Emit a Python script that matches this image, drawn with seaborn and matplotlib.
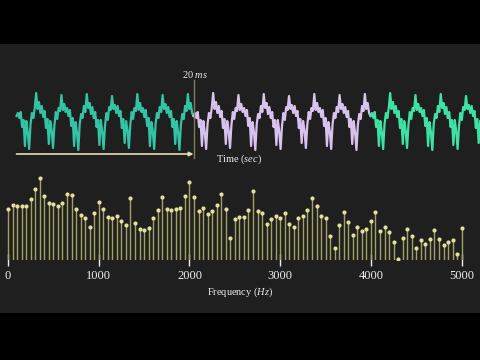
import numpy as np
import pandas as pd
import matplotlib
matplotlib.use("Agg")
import matplotlib.pyplot as plt
import seaborn as sns

# spectrum: one stem every 50 Hz, 0..5000 Hz (heights)
freqs = list(range(0, 5001, 50))
amps = [51, 55, 54, 54, 54, 61, 71, 82, 64, 57, 56, 54, 57, 66, 65, 51, 45, 42, 33, 47,
        58, 51, 43, 42, 44, 39, 35, 62, 37, 31, 30, 32, 42, 50, 63, 51, 50, 51, 52, 64,
        78, 63, 49, 52, 46, 49, 55, 66, 51, 22, 41, 43, 43, 50, 69, 49, 47, 36, 41, 44,
        42, 47, 36, 33, 42, 44, 50, 62, 54, 44, 42, 24, 12, 35, 48, 38, 25, 33, 29, 31,
        39, 48, 29, 33, 28, 18, 1, 22, 31, 24, 12, 20, 16, 21, 30, 21, 15, 18, 20, 6, 32]
freq_ticks = [0, 1000, 2000, 3000, 4000, 5000]

# one 20 ms period of the waveform, evenly sampled (126 samples)
period_ms = 20
wave_period = [5, 8, 3, 9, -6, 1, -25, 0, -11, -28, -3, 8, 3, 13,
               28, 12, 19, 8, 15, 4, 10, -7, 2, -23, 0, -9, -27, -4, 9, 2, 13, 10,
               26, 11, 17, 9, 13, 5, 11, -5, 3, -25, -1, -11, -29, -3, 7, 3, 15, 9,
               27, 13, 18, 7, 14, 3, 9, -6, 1, -24, 1, -10, -28, -5, 8, 1, 14, 11,
               25, 12, 16, 8, 15, 5, 10, -7, 2, -22, 0, -9, -27, -4, 9, 2, 13, 10,
               27, 11, 18, 9, 13, 4, 11, -5, 3, -25, -1, -10, -28, -3, 8, 3, 14, 9,
               26, 12, 17, 8, 14, 4, 10, -6, 2, -23, 0, -11, -29, -4, 7, 2, 15, 10,
               27, 12, 18, 8]
segments = ["a", "b", "c"]
seg_colors = {"a": "#33c4a5", "b": "#d8c2ee", "c": "#3fe2a5"}

n = len(wave_period)
rows = []
for k, seg in enumerate(segments):
    for i in range(n + 1):
        rows.append((k * period_ms + i * period_ms / n, wave_period[i % n], seg))
wave_df = pd.DataFrame(rows, columns=["t", "amp", "seg"])

plt.rcParams["font.family"] = ["Liberation Serif", "DejaVu Serif"]
plt.rcParams["mathtext.fontset"] = "custom"
plt.rcParams["mathtext.rm"] = "Liberation Serif"
plt.rcParams["mathtext.it"] = "Liberation Serif:italic"

txt = "#ececec"
fig = plt.figure(figsize=(4.8, 3.6), dpi=100, facecolor="black")
bg = fig.add_axes([0, 47 / 360, 1, 269 / 360], zorder=-5)
bg.set_facecolor("#1f1f1f")
bg.set_xticks([])
bg.set_yticks([])
for sp in bg.spines.values():
    sp.set_visible(False)

# waveform
ax_w = fig.add_axes([0, 190 / 360, 1, 110 / 360])
ax_w.patch.set_alpha(0)
sns.lineplot(data=wave_df, x="t", y="amp", hue="seg", palette=seg_colors, estimator=None,
             sort=False, legend=False, lw=1.6, ax=ax_w)
ax_w.set_xlim(-16.5 / 177 * 20, (480 - 16.5) / 177 * 20)
ax_w.set_ylim(-49, 61)
ax_w.set_axis_off()
ax_w.axvline(period_ms, ymin=0.11, ymax=0.82, color="#7d7b55", lw=1)
ax_w.annotate("", xy=(period_ms, -33), xytext=(0, -33),
              arrowprops=dict(arrowstyle="-|>", color="#e6dfb0", lw=1.2,
                              mutation_scale=6, shrinkA=0, shrinkB=0))
ax_w.text(period_ms + 0.2, 46, r"20 $\mathit{ms}$", color=txt, fontsize=7.5,
          ha="center", va="center")
ax_w.text(25.2, -38, r"Time ($\mathit{sec}$)", color=txt, fontsize=7.5,
          ha="center", va="center")

# spectrum
ax_s = fig.add_axes([0, 100 / 360, 1, 100 / 360])
ax_s.patch.set_alpha(0)
ax_s.vlines(freqs, 0, amps, color="#a3a062", lw=1)
sns.scatterplot(x=freqs, y=amps, color="#e4df9e", s=9, linewidth=0, zorder=3, ax=ax_s)
ax_s.set_xlim(-8 / 0.09074, 472 / 0.09074)
ax_s.set_ylim(0, 100)
for sp in ax_s.spines.values():
    sp.set_visible(False)
ax_s.set_yticks([])
ax_s.set_xticks(freq_ticks)
ax_s.set_xticklabels([str(f) for f in freq_ticks])
ax_s.tick_params(axis="x", colors=txt, direction="inout", length=8, width=1,
                 pad=3, labelsize=9)
ax_s.set_xlabel(r"Frequency ($\mathit{Hz}$)", color=txt, fontsize=7.5, labelpad=3)

fig.savefig("out.png", dpi=100, facecolor="black")
